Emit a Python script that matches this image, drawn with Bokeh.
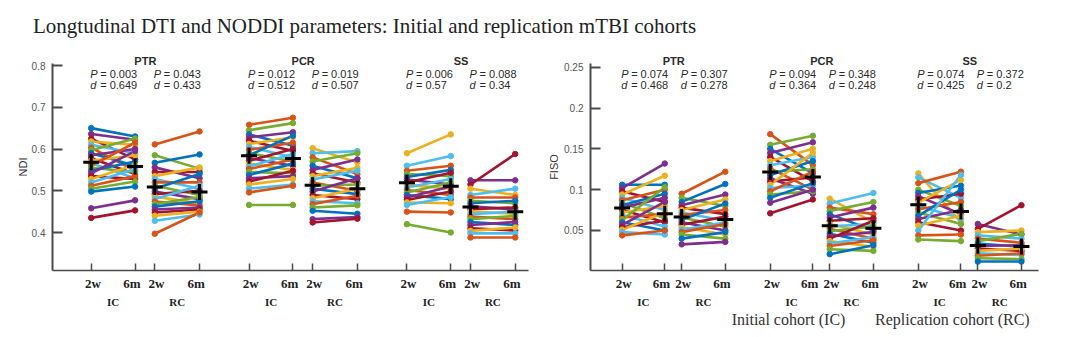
from bokeh.plotting import figure
from bokeh.models import (FixedTicker, LinearAxis, Label, Div, Range1d,
                          CustomJSTickFormatter, ColumnDataSource)
from bokeh.layouts import column, row
from bokeh.embed import file_html
from bokeh.resources import INLINE

TITLE = "Longtudinal DTI and NODDI parameters: Initial and replication mTBI cohorts"
REGIONS = ["PTR", "PCR", "SS"]
TIMEPOINTS = ["2w", "6m"]
COHORTS = ["IC", "RC"]
COHORT_NAMES = ["Initial cohort (IC)", "Replication cohort (RC)"]

# ---------------- NDI (left panel) ----------------
NDI_PTR_IC_2W = [0.650, 0.636, 0.625, 0.618, 0.610, 0.603, 0.597, 0.590, 0.585, 0.578, 0.572, 0.566,
                 0.560, 0.555, 0.548, 0.542, 0.535, 0.528, 0.520, 0.512, 0.505, 0.498, 0.458, 0.435]
NDI_PTR_IC_6M = [0.630, 0.622, 0.575, 0.610, 0.590, 0.548, 0.625, 0.560, 0.600, 0.540, 0.585, 0.530,
                 0.615, 0.545, 0.570, 0.595, 0.528, 0.562, 0.552, 0.535, 0.522, 0.510, 0.477, 0.453]
NDI_PTR_RC_2W = [0.611, 0.585, 0.567, 0.556, 0.545, 0.535, 0.528, 0.520, 0.512, 0.505, 0.498,
                 0.492, 0.486, 0.480, 0.474, 0.468, 0.462, 0.455, 0.448, 0.440, 0.428, 0.397]
NDI_PTR_RC_6M = [0.642, 0.553, 0.587, 0.530, 0.545, 0.556, 0.505, 0.520, 0.490, 0.540, 0.480,
                 0.500, 0.470, 0.512, 0.465, 0.485, 0.475, 0.460, 0.455, 0.450, 0.443, 0.448]
NDI_PCR_IC_2W = [0.658, 0.645, 0.635, 0.628, 0.620, 0.612, 0.605, 0.598, 0.590, 0.585, 0.578, 0.572,
                 0.565, 0.558, 0.552, 0.545, 0.538, 0.530, 0.522, 0.515, 0.505, 0.496, 0.466]
NDI_PCR_IC_6M = [0.675, 0.662, 0.608, 0.640, 0.595, 0.628, 0.580, 0.615, 0.570, 0.632, 0.560, 0.600,
                 0.550, 0.588, 0.575, 0.542, 0.565, 0.535, 0.548, 0.528, 0.515, 0.512, 0.466]
NDI_PCR_RC_2W = [0.602, 0.590, 0.580, 0.570, 0.560, 0.550, 0.542, 0.535, 0.527, 0.520, 0.512,
                 0.505, 0.498, 0.490, 0.482, 0.475, 0.468, 0.460, 0.452, 0.432, 0.424]
NDI_PCR_RC_6M = [0.568, 0.595, 0.540, 0.590, 0.530, 0.575, 0.520, 0.555, 0.548, 0.500, 0.515,
                 0.492, 0.530, 0.480, 0.505, 0.470, 0.488, 0.465, 0.445, 0.437, 0.433]
NDI_SS_IC_2W = [0.590, 0.560, 0.548, 0.540, 0.533, 0.527, 0.520, 0.514, 0.508, 0.502, 0.496,
                0.490, 0.484, 0.478, 0.472, 0.466, 0.450, 0.420]
NDI_SS_IC_6M = [0.635, 0.583, 0.560, 0.535, 0.550, 0.515, 0.543, 0.505, 0.528, 0.490, 0.520,
                0.480, 0.510, 0.498, 0.470, 0.485, 0.448, 0.400]
NDI_SS_RC_2W = [0.525, 0.515, 0.505, 0.490, 0.484, 0.476, 0.470, 0.463, 0.456, 0.450, 0.444,
                0.438, 0.432, 0.425, 0.418, 0.410, 0.404, 0.398, 0.388]
NDI_SS_RC_6M = [0.525, 0.588, 0.490, 0.505, 0.484, 0.470, 0.476, 0.455, 0.460, 0.445, 0.450,
                0.432, 0.440, 0.418, 0.425, 0.405, 0.412, 0.398, 0.388]
# group means (2w, 6m) per region, per cohort
NDI_MEAN_IC_2W = [0.568, 0.584, 0.519]
NDI_MEAN_IC_6M = [0.558, 0.577, 0.511]
NDI_MEAN_RC_2W = [0.509, 0.513, 0.461]
NDI_MEAN_RC_6M = [0.497, 0.505, 0.450]
NDI_P = [["0.003", "0.043"], ["0.012", "0.019"], ["0.006", "0.088"]]
NDI_D = [["0.649", "0.433"], ["0.512", "0.507"], ["0.57", "0.34"]]
NDI_TICKS = [0.4, 0.5, 0.6, 0.7, 0.8]
NDI_TICK_LABELS = ["0.4", "0.5", "0.6", "0.7", "0.8"]

# ---------------- FISO (right panel) ----------------
FISO_PTR_IC_2W = [0.106, 0.102, 0.098, 0.094, 0.090, 0.087, 0.084, 0.081, 0.078, 0.075,
                  0.072, 0.069, 0.066, 0.063, 0.060, 0.057, 0.054, 0.051, 0.048, 0.044]
FISO_PTR_IC_6M = [0.106, 0.132, 0.085, 0.117, 0.075, 0.100, 0.065, 0.095, 0.090, 0.060,
                  0.080, 0.055, 0.070, 0.103, 0.050, 0.085, 0.062, 0.072, 0.045, 0.050]
FISO_PTR_RC_2W = [0.095, 0.090, 0.085, 0.081, 0.078, 0.075, 0.072, 0.069, 0.066, 0.063,
                  0.060, 0.057, 0.054, 0.051, 0.048, 0.045, 0.040, 0.033]
FISO_PTR_RC_6M = [0.122, 0.080, 0.107, 0.094, 0.070, 0.088, 0.062, 0.075, 0.055, 0.083,
                  0.050, 0.067, 0.045, 0.060, 0.058, 0.040, 0.048, 0.036]
FISO_PCR_IC_2W = [0.168, 0.155, 0.150, 0.145, 0.140, 0.135, 0.130, 0.126, 0.122, 0.118,
                  0.114, 0.110, 0.106, 0.102, 0.098, 0.094, 0.090, 0.084, 0.071]
FISO_PCR_IC_6M = [0.130, 0.166, 0.120, 0.158, 0.110, 0.150, 0.140, 0.100, 0.125, 0.135,
                  0.095, 0.115, 0.145, 0.105, 0.122, 0.098, 0.108, 0.100, 0.088]
FISO_PCR_RC_2W = [0.089, 0.083, 0.078, 0.074, 0.070, 0.066, 0.062, 0.058, 0.055, 0.052,
                  0.049, 0.046, 0.043, 0.040, 0.037, 0.034, 0.031, 0.027, 0.021]
FISO_PCR_RC_6M = [0.060, 0.096, 0.070, 0.085, 0.050, 0.078, 0.065, 0.045, 0.058, 0.040,
                  0.055, 0.035, 0.048, 0.062, 0.030, 0.042, 0.038, 0.025, 0.032]
FISO_SS_IC_2W = [0.120, 0.115, 0.108, 0.100, 0.096, 0.092, 0.088, 0.084, 0.080, 0.076,
                 0.072, 0.068, 0.064, 0.060, 0.056, 0.050, 0.044, 0.039]
FISO_SS_IC_6M = [0.060, 0.090, 0.122, 0.080, 0.105, 0.070, 0.095, 0.112, 0.065, 0.085,
                 0.058, 0.100, 0.075, 0.050, 0.068, 0.118, 0.045, 0.037]
FISO_SS_RC_2W = [0.058, 0.052, 0.048, 0.044, 0.040, 0.037, 0.034, 0.031, 0.028, 0.025,
                 0.022, 0.019, 0.016, 0.012]
FISO_SS_RC_6M = [0.045, 0.081, 0.050, 0.040, 0.035, 0.046, 0.030, 0.032, 0.025, 0.028,
                 0.020, 0.022, 0.015, 0.012]
FISO_MEAN_IC_2W = [0.0774, 0.1216, 0.0816]
FISO_MEAN_IC_6M = [0.0705, 0.1155, 0.0733]
FISO_MEAN_RC_2W = [0.0664, 0.0558, 0.0316]
FISO_MEAN_RC_6M = [0.0635, 0.0528, 0.0303]
FISO_P = [["0.074", "0.307"], ["0.094", "0.348"], ["0.074", "0.372"]]
FISO_D = [["0.468", "0.278"], ["0.364", "0.248"], ["0.425", "0.2"]]
FISO_TICKS = [0.05, 0.1, 0.15, 0.2, 0.25]
FISO_TICK_LABELS = ["0.05", "0.1", "0.15", "0.2", "0.25"]

PALETTE = ["#0072BD", "#D95319", "#EDB120", "#7E2F8E", "#77AC30", "#4DBEEE", "#A2142F"]

SANS = "Liberation Sans"
SERIF = "Liberation Serif"
TEXT_COL = "#2b2b2b"
AXIS_COL = "#4a4a4a"

DIV_H = 45
FIG_H = 292
TOP_B = 18
BOT_B = 67
FRAME_TOP = DIV_H + TOP_B         # page y of frame top
FRAME_BOT = DIV_H + FIG_H - BOT_B  # page y of frame bottom
NB = "\u00a0"


def idx_formatter(labels):
    js = "[" + ",".join("'%s'" % s for s in labels) + "]"
    return CustomJSTickFormatter(code="const L = %s; return L[index %% L.length];" % js)


def make_panel(ylabel, data, means, pvals, dvals, yticks, ylabels, yr, xr,
               within, spacing, border_l, border_r, width, label_standoff):
    p = figure(width=width, height=FIG_H, x_range=Range1d(*xr), y_range=Range1d(*yr),
               output_backend="svg", toolbar_location=None,
               min_border_left=border_l, min_border_right=border_r,
               min_border_top=TOP_B, min_border_bottom=BOT_B, x_axis_type=None)
    p.outline_line_color = None
    p.grid.visible = False
    p.background_fill_color = "white"
    p.border_fill_color = "white"

    def py2y(py):
        return yr[1] - (py - FRAME_TOP) * (yr[1] - yr[0]) / (FRAME_BOT - FRAME_TOP)

    tick_pos = []
    centers = []
    group_centers = []
    for g in range(3):
        base = g * spacing
        xs_g = [base + w for w in within]
        tick_pos += xs_g
        centers += [(xs_g[0] + xs_g[1]) / 2, (xs_g[2] + xs_g[3]) / 2]
        group_centers.append((xs_g[0] + xs_g[3]) / 2)

        for c in range(2):
            v2w, v6m = data[g][c]
            x0, x1 = xs_g[2 * c], xs_g[2 * c + 1]
            cols = [PALETTE[(i * 3 + g + c) % len(PALETTE)] for i in range(len(v2w))]
            src = ColumnDataSource(dict(xs=[[x0, x1] for _ in v2w],
                                        ys=[[a, b] for a, b in zip(v2w, v6m)],
                                        color=cols))
            p.multi_line("xs", "ys", line_color="color", line_width=2.6, source=src)
            p.scatter(x=[x0] * len(v2w) + [x1] * len(v6m), y=list(v2w) + list(v6m),
                      size=5.5, color=cols + cols, marker="circle")
            m2w, m6m = means[c][0][g], means[c][1][g]
            p.scatter(x=[x0, x1], y=[m2w, m6m], marker="cross", size=16,
                      line_color="black", line_width=3)

            # statistics text
            for k, (sym, val) in enumerate([("P", pvals[g][c]), ("d", dvals[g][c])]):
                yy = py2y(73 + 11 * k)
                p.add_layout(Label(x=x0, y=yy, text=sym, text_font=SANS,
                                   text_font_style="italic", text_font_size="11px",
                                   text_color=TEXT_COL, text_baseline="middle",
                                   text_align="left", x_offset=-1))
                p.add_layout(Label(x=x0, y=yy, text="= " + val, text_font=SANS,
                                   text_font_size="11px", text_color=TEXT_COL,
                                   text_baseline="middle", text_align="left", x_offset=9))

    # region titles above the frame
    ta = LinearAxis(ticker=FixedTicker(ticks=group_centers), formatter=idx_formatter(REGIONS))
    ta.axis_line_color = None
    ta.major_tick_line_color = None
    ta.minor_tick_line_color = None
    ta.major_tick_in = 0
    ta.major_tick_out = 0
    ta.major_label_text_font = SANS
    ta.major_label_text_font_style = "bold"
    ta.major_label_text_font_size = "11px"
    ta.major_label_text_color = TEXT_COL
    ta.major_label_standoff = -3
    p.add_layout(ta, "above")

    # x axis with time points (2w label nudged right, 6m nudged left, as in the source figure)
    xa = LinearAxis(ticker=FixedTicker(ticks=tick_pos),
                    formatter=idx_formatter([NB + TIMEPOINTS[0], TIMEPOINTS[1] + NB + NB]))
    xa.major_tick_in = 7
    xa.major_tick_out = 0
    xa.minor_tick_line_color = None
    xa.axis_line_color = AXIS_COL
    xa.axis_line_width = 1.5
    xa.major_tick_line_color = AXIS_COL
    xa.major_tick_line_width = 1.5
    xa.major_label_text_font = SERIF
    xa.major_label_text_font_style = "bold"
    xa.major_label_text_font_size = "13px"
    xa.major_label_text_color = "#222222"
    xa.major_label_standoff = 5
    p.add_layout(xa, "below")

    # cohort labels
    ca = LinearAxis(ticker=FixedTicker(ticks=centers), formatter=idx_formatter(COHORTS))
    ca.axis_line_color = None
    ca.major_tick_line_color = None
    ca.minor_tick_line_color = None
    ca.major_tick_in = 0
    ca.major_tick_out = 0
    ca.major_label_text_font = SERIF
    ca.major_label_text_font_style = "bold"
    ca.major_label_text_font_size = "11px"
    ca.major_label_text_color = "#222222"
    ca.major_label_standoff = 2
    p.add_layout(ca, "below")

    ya = p.yaxis[0]
    ya.ticker = FixedTicker(ticks=yticks)
    ya.major_label_overrides = {t: l for t, l in zip(yticks, ylabels)}
    ya.major_tick_in = 10
    ya.major_tick_out = 0
    ya.minor_tick_line_color = None
    ya.axis_line_color = AXIS_COL
    ya.axis_line_width = 2
    ya.major_tick_line_color = AXIS_COL
    ya.major_tick_line_width = 2
    ya.major_label_text_font = SANS
    ya.major_label_text_font_size = "10px"
    ya.major_label_text_color = "#555555"
    ya.major_label_standoff = 7
    ya.axis_label = ylabel
    ya.axis_label_text_font = SANS
    ya.axis_label_text_font_style = "normal"
    ya.axis_label_text_font_size = "11px"
    ya.axis_label_text_color = "#333333"
    ya.axis_label_standoff = label_standoff
    return p, group_centers


ndi_data = [
    [(NDI_PTR_IC_2W, NDI_PTR_IC_6M), (NDI_PTR_RC_2W, NDI_PTR_RC_6M)],
    [(NDI_PCR_IC_2W, NDI_PCR_IC_6M), (NDI_PCR_RC_2W, NDI_PCR_RC_6M)],
    [(NDI_SS_IC_2W, NDI_SS_IC_6M), (NDI_SS_RC_2W, NDI_SS_RC_6M)],
]
fiso_data = [
    [(FISO_PTR_IC_2W, FISO_PTR_IC_6M), (FISO_PTR_RC_2W, FISO_PTR_RC_6M)],
    [(FISO_PCR_IC_2W, FISO_PCR_IC_6M), (FISO_PCR_RC_2W, FISO_PCR_RC_6M)],
    [(FISO_SS_IC_2W, FISO_SS_IC_6M), (FISO_SS_RC_2W, FISO_SS_RC_6M)],
]
ndi_means = [(NDI_MEAN_IC_2W, NDI_MEAN_IC_6M), (NDI_MEAN_RC_2W, NDI_MEAN_RC_6M)]
fiso_means = [(FISO_MEAN_IC_2W, FISO_MEAN_IC_6M), (FISO_MEAN_RC_2W, FISO_MEAN_RC_6M)]

p1, _ = make_panel("NDI", ndi_data, ndi_means, NDI_P, NDI_D, NDI_TICKS, NDI_TICK_LABELS,
                   (0.309, 0.8048), (-0.883, 9.973), [0, 1, 1.45, 2.47], 3.6, 52, 12, 540, 0)
p2, gc2 = make_panel("FISO", fiso_data, fiso_means, FISO_P, FISO_D, FISO_TICKS, FISO_TICK_LABELS,
                     (0.001, 0.2545), (-0.742, 9.765), [0, 1, 1.396, 2.419], 3.473, 50, 42, 540, 1)

# cohort names under the right panel
na = LinearAxis(ticker=FixedTicker(ticks=[gc2[1] - 0.78, gc2[2] - 0.41]),
                formatter=idx_formatter(COHORT_NAMES))
na.axis_line_color = None
na.major_tick_line_color = None
na.minor_tick_line_color = None
na.major_tick_in = 0
na.major_tick_out = 0
na.major_label_text_font = SERIF
na.major_label_text_font_size = "16px"
na.major_label_text_color = "#333333"
na.major_label_standoff = 0
p2.add_layout(na, "below")

title = Div(text=('<div style="font-family:\'Liberation Serif\'; font-size:21px; color:#222;'
                  ' padding:11px 0 0 33px; white-space:nowrap;">' + TITLE + '</div>'),
            width=1080, height=DIV_H, margin=0)

layout = column(title, row(p1, p2))
open("out.html", "w").write(file_html(layout, INLINE))
